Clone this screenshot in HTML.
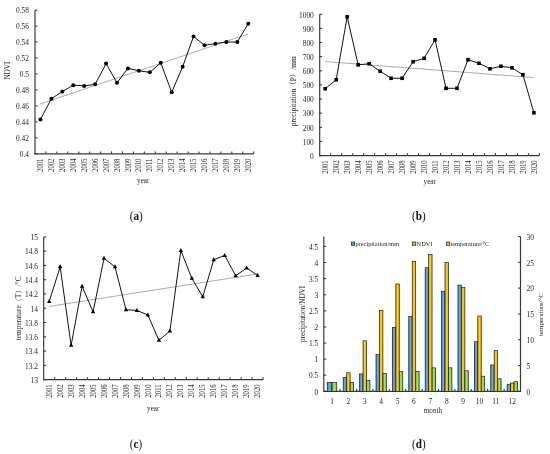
<!DOCTYPE html>
<html><head><meta charset="utf-8"><title>Figure</title>
<style>html,body{margin:0;padding:0;background:#fff;width:550px;height:454px;overflow:hidden}svg{display:block}</style>
</head><body>
<svg width="550" height="454" viewBox="0 0 550 454" font-family='"Liberation Serif","Noto Serif CJK SC",serif'>
<defs>
<linearGradient id="gb" x1="0" x2="1" y1="0" y2="0"><stop offset="0" stop-color="#3f78b8"/><stop offset="0.5" stop-color="#6fb0ee"/><stop offset="1" stop-color="#3f78b8"/></linearGradient>
<linearGradient id="go" x1="0" x2="1" y1="0" y2="0"><stop offset="0" stop-color="#e0a400"/><stop offset="0.5" stop-color="#ffd51a"/><stop offset="1" stop-color="#e0a400"/></linearGradient>
<linearGradient id="gg" x1="0" x2="1" y1="0" y2="0"><stop offset="0" stop-color="#6fb83a"/><stop offset="0.5" stop-color="#a6e866"/><stop offset="1" stop-color="#6fb83a"/></linearGradient>
</defs>
<rect width="550" height="454" fill="#fff"/>
<line x1="35.00" y1="10.10" x2="35.00" y2="154.40" stroke="#3a3a3a" stroke-width="1.2"/>
<line x1="34.40" y1="153.80" x2="253.70" y2="153.80" stroke="#3a3a3a" stroke-width="1.2"/>
<line x1="35.00" y1="153.80" x2="37.40" y2="153.80" stroke="#3a3a3a" stroke-width="1.1"/>
<text transform="translate(29.00 157.10)" font-size="7.4" text-anchor="end" fill="#262626">0.4</text>
<line x1="35.00" y1="137.83" x2="37.40" y2="137.83" stroke="#3a3a3a" stroke-width="1.1"/>
<text transform="translate(29.00 141.13)" font-size="7.4" text-anchor="end" fill="#262626">0.42</text>
<line x1="35.00" y1="121.87" x2="37.40" y2="121.87" stroke="#3a3a3a" stroke-width="1.1"/>
<text transform="translate(29.00 125.17)" font-size="7.4" text-anchor="end" fill="#262626">0.44</text>
<line x1="35.00" y1="105.90" x2="37.40" y2="105.90" stroke="#3a3a3a" stroke-width="1.1"/>
<text transform="translate(29.00 109.20)" font-size="7.4" text-anchor="end" fill="#262626">0.46</text>
<line x1="35.00" y1="89.93" x2="37.40" y2="89.93" stroke="#3a3a3a" stroke-width="1.1"/>
<text transform="translate(29.00 93.23)" font-size="7.4" text-anchor="end" fill="#262626">0.48</text>
<line x1="35.00" y1="73.97" x2="37.40" y2="73.97" stroke="#3a3a3a" stroke-width="1.1"/>
<text transform="translate(29.00 77.27)" font-size="7.4" text-anchor="end" fill="#262626">0.5</text>
<line x1="35.00" y1="58.00" x2="37.40" y2="58.00" stroke="#3a3a3a" stroke-width="1.1"/>
<text transform="translate(29.00 61.30)" font-size="7.4" text-anchor="end" fill="#262626">0.52</text>
<line x1="35.00" y1="42.03" x2="37.40" y2="42.03" stroke="#3a3a3a" stroke-width="1.1"/>
<text transform="translate(29.00 45.33)" font-size="7.4" text-anchor="end" fill="#262626">0.54</text>
<line x1="35.00" y1="26.07" x2="37.40" y2="26.07" stroke="#3a3a3a" stroke-width="1.1"/>
<text transform="translate(29.00 29.37)" font-size="7.4" text-anchor="end" fill="#262626">0.56</text>
<line x1="35.00" y1="10.10" x2="37.40" y2="10.10" stroke="#3a3a3a" stroke-width="1.1"/>
<text transform="translate(29.00 13.40)" font-size="7.4" text-anchor="end" fill="#262626">0.58</text>
<line x1="45.94" y1="153.80" x2="45.94" y2="151.40" stroke="#3a3a3a" stroke-width="1.1"/>
<line x1="56.87" y1="153.80" x2="56.87" y2="151.40" stroke="#3a3a3a" stroke-width="1.1"/>
<line x1="67.80" y1="153.80" x2="67.80" y2="151.40" stroke="#3a3a3a" stroke-width="1.1"/>
<line x1="78.74" y1="153.80" x2="78.74" y2="151.40" stroke="#3a3a3a" stroke-width="1.1"/>
<line x1="89.67" y1="153.80" x2="89.67" y2="151.40" stroke="#3a3a3a" stroke-width="1.1"/>
<line x1="100.61" y1="153.80" x2="100.61" y2="151.40" stroke="#3a3a3a" stroke-width="1.1"/>
<line x1="111.54" y1="153.80" x2="111.54" y2="151.40" stroke="#3a3a3a" stroke-width="1.1"/>
<line x1="122.48" y1="153.80" x2="122.48" y2="151.40" stroke="#3a3a3a" stroke-width="1.1"/>
<line x1="133.41" y1="153.80" x2="133.41" y2="151.40" stroke="#3a3a3a" stroke-width="1.1"/>
<line x1="144.35" y1="153.80" x2="144.35" y2="151.40" stroke="#3a3a3a" stroke-width="1.1"/>
<line x1="155.28" y1="153.80" x2="155.28" y2="151.40" stroke="#3a3a3a" stroke-width="1.1"/>
<line x1="166.22" y1="153.80" x2="166.22" y2="151.40" stroke="#3a3a3a" stroke-width="1.1"/>
<line x1="177.15" y1="153.80" x2="177.15" y2="151.40" stroke="#3a3a3a" stroke-width="1.1"/>
<line x1="188.09" y1="153.80" x2="188.09" y2="151.40" stroke="#3a3a3a" stroke-width="1.1"/>
<line x1="199.02" y1="153.80" x2="199.02" y2="151.40" stroke="#3a3a3a" stroke-width="1.1"/>
<line x1="209.96" y1="153.80" x2="209.96" y2="151.40" stroke="#3a3a3a" stroke-width="1.1"/>
<line x1="220.89" y1="153.80" x2="220.89" y2="151.40" stroke="#3a3a3a" stroke-width="1.1"/>
<line x1="231.83" y1="153.80" x2="231.83" y2="151.40" stroke="#3a3a3a" stroke-width="1.1"/>
<line x1="242.76" y1="153.80" x2="242.76" y2="151.40" stroke="#3a3a3a" stroke-width="1.1"/>
<line x1="253.70" y1="153.80" x2="253.70" y2="151.40" stroke="#3a3a3a" stroke-width="1.1"/>
<text transform="translate(43.07 158.60) rotate(-90) scale(0.930 1)" font-size="7.2" text-anchor="end" fill="#262626">2001</text>
<text transform="translate(54.00 158.60) rotate(-90) scale(0.930 1)" font-size="7.2" text-anchor="end" fill="#262626">2002</text>
<text transform="translate(64.94 158.60) rotate(-90) scale(0.930 1)" font-size="7.2" text-anchor="end" fill="#262626">2003</text>
<text transform="translate(75.87 158.60) rotate(-90) scale(0.930 1)" font-size="7.2" text-anchor="end" fill="#262626">2004</text>
<text transform="translate(86.81 158.60) rotate(-90) scale(0.930 1)" font-size="7.2" text-anchor="end" fill="#262626">2005</text>
<text transform="translate(97.74 158.60) rotate(-90) scale(0.930 1)" font-size="7.2" text-anchor="end" fill="#262626">2006</text>
<text transform="translate(108.68 158.60) rotate(-90) scale(0.930 1)" font-size="7.2" text-anchor="end" fill="#262626">2007</text>
<text transform="translate(119.61 158.60) rotate(-90) scale(0.930 1)" font-size="7.2" text-anchor="end" fill="#262626">2008</text>
<text transform="translate(130.55 158.60) rotate(-90) scale(0.930 1)" font-size="7.2" text-anchor="end" fill="#262626">2009</text>
<text transform="translate(141.48 158.60) rotate(-90) scale(0.930 1)" font-size="7.2" text-anchor="end" fill="#262626">2010</text>
<text transform="translate(152.42 158.60) rotate(-90) scale(0.930 1)" font-size="7.2" text-anchor="end" fill="#262626">2011</text>
<text transform="translate(163.35 158.60) rotate(-90) scale(0.930 1)" font-size="7.2" text-anchor="end" fill="#262626">2012</text>
<text transform="translate(174.29 158.60) rotate(-90) scale(0.930 1)" font-size="7.2" text-anchor="end" fill="#262626">2013</text>
<text transform="translate(185.22 158.60) rotate(-90) scale(0.930 1)" font-size="7.2" text-anchor="end" fill="#262626">2014</text>
<text transform="translate(196.16 158.60) rotate(-90) scale(0.930 1)" font-size="7.2" text-anchor="end" fill="#262626">2015</text>
<text transform="translate(207.09 158.60) rotate(-90) scale(0.930 1)" font-size="7.2" text-anchor="end" fill="#262626">2016</text>
<text transform="translate(218.03 158.60) rotate(-90) scale(0.930 1)" font-size="7.2" text-anchor="end" fill="#262626">2017</text>
<text transform="translate(228.96 158.60) rotate(-90) scale(0.930 1)" font-size="7.2" text-anchor="end" fill="#262626">2018</text>
<text transform="translate(239.90 158.60) rotate(-90) scale(0.930 1)" font-size="7.2" text-anchor="end" fill="#262626">2019</text>
<text transform="translate(250.83 158.60) rotate(-90) scale(0.930 1)" font-size="7.2" text-anchor="end" fill="#262626">2020</text>
<line x1="40.47" y1="103.82" x2="248.23" y2="33.97" stroke="#9c9c9c" stroke-width="0.85"/>
<polyline points="40.47,119.47 51.40,98.72 62.34,91.53 73.27,85.14 84.21,85.94 95.14,84.34 106.08,63.59 117.01,82.75 127.95,68.38 138.88,70.77 149.82,72.37 160.75,62.79 171.69,92.33 182.62,66.78 193.56,36.44 204.49,45.23 215.43,43.63 226.36,42.03 237.30,42.03 248.23,23.67" fill="none" stroke="#111" stroke-width="1"/>
<circle cx="40.47" cy="119.47" r="2.0" fill="#000"/>
<circle cx="51.40" cy="98.72" r="2.0" fill="#000"/>
<circle cx="62.34" cy="91.53" r="2.0" fill="#000"/>
<circle cx="73.27" cy="85.14" r="2.0" fill="#000"/>
<circle cx="84.21" cy="85.94" r="2.0" fill="#000"/>
<circle cx="95.14" cy="84.34" r="2.0" fill="#000"/>
<circle cx="106.08" cy="63.59" r="2.0" fill="#000"/>
<circle cx="117.01" cy="82.75" r="2.0" fill="#000"/>
<circle cx="127.95" cy="68.38" r="2.0" fill="#000"/>
<circle cx="138.88" cy="70.77" r="2.0" fill="#000"/>
<circle cx="149.82" cy="72.37" r="2.0" fill="#000"/>
<circle cx="160.75" cy="62.79" r="2.0" fill="#000"/>
<circle cx="171.69" cy="92.33" r="2.0" fill="#000"/>
<circle cx="182.62" cy="66.78" r="2.0" fill="#000"/>
<circle cx="193.56" cy="36.44" r="2.0" fill="#000"/>
<circle cx="204.49" cy="45.23" r="2.0" fill="#000"/>
<circle cx="215.43" cy="43.63" r="2.0" fill="#000"/>
<circle cx="226.36" cy="42.03" r="2.0" fill="#000"/>
<circle cx="237.30" cy="42.03" r="2.0" fill="#000"/>
<circle cx="248.23" cy="23.67" r="2.0" fill="#000"/>
<text transform="translate(10.40 70.60) rotate(-90)" font-size="7.2" text-anchor="middle" fill="#262626">NDVI</text>
<text transform="translate(143.20 182.70) scale(0.934 1)" font-size="7.6" text-anchor="middle" fill="#262626">year</text>
<text transform="translate(136.30 220.00) scale(0.960 1)" font-size="11.6" text-anchor="middle" fill="#111">(<tspan font-weight="bold">a</tspan>)</text>
<line x1="319.70" y1="14.25" x2="319.70" y2="156.15" stroke="#3a3a3a" stroke-width="1.2"/>
<line x1="319.10" y1="155.55" x2="539.40" y2="155.55" stroke="#3a3a3a" stroke-width="1.2"/>
<line x1="319.70" y1="155.55" x2="322.10" y2="155.55" stroke="#3a3a3a" stroke-width="1.1"/>
<text transform="translate(313.80 158.85)" font-size="7.4" text-anchor="end" fill="#262626">0</text>
<line x1="319.70" y1="141.42" x2="322.10" y2="141.42" stroke="#3a3a3a" stroke-width="1.1"/>
<text transform="translate(313.80 144.72)" font-size="7.4" text-anchor="end" fill="#262626">100</text>
<line x1="319.70" y1="127.29" x2="322.10" y2="127.29" stroke="#3a3a3a" stroke-width="1.1"/>
<text transform="translate(313.80 130.59)" font-size="7.4" text-anchor="end" fill="#262626">200</text>
<line x1="319.70" y1="113.16" x2="322.10" y2="113.16" stroke="#3a3a3a" stroke-width="1.1"/>
<text transform="translate(313.80 116.46)" font-size="7.4" text-anchor="end" fill="#262626">300</text>
<line x1="319.70" y1="99.03" x2="322.10" y2="99.03" stroke="#3a3a3a" stroke-width="1.1"/>
<text transform="translate(313.80 102.33)" font-size="7.4" text-anchor="end" fill="#262626">400</text>
<line x1="319.70" y1="84.90" x2="322.10" y2="84.90" stroke="#3a3a3a" stroke-width="1.1"/>
<text transform="translate(313.80 88.20)" font-size="7.4" text-anchor="end" fill="#262626">500</text>
<line x1="319.70" y1="70.77" x2="322.10" y2="70.77" stroke="#3a3a3a" stroke-width="1.1"/>
<text transform="translate(313.80 74.07)" font-size="7.4" text-anchor="end" fill="#262626">600</text>
<line x1="319.70" y1="56.64" x2="322.10" y2="56.64" stroke="#3a3a3a" stroke-width="1.1"/>
<text transform="translate(313.80 59.94)" font-size="7.4" text-anchor="end" fill="#262626">700</text>
<line x1="319.70" y1="42.51" x2="322.10" y2="42.51" stroke="#3a3a3a" stroke-width="1.1"/>
<text transform="translate(313.80 45.81)" font-size="7.4" text-anchor="end" fill="#262626">800</text>
<line x1="319.70" y1="28.38" x2="322.10" y2="28.38" stroke="#3a3a3a" stroke-width="1.1"/>
<text transform="translate(313.80 31.68)" font-size="7.4" text-anchor="end" fill="#262626">900</text>
<line x1="319.70" y1="14.25" x2="322.10" y2="14.25" stroke="#3a3a3a" stroke-width="1.1"/>
<text transform="translate(313.80 17.55)" font-size="7.4" text-anchor="end" fill="#262626">1000</text>
<line x1="330.69" y1="155.55" x2="330.69" y2="153.15" stroke="#3a3a3a" stroke-width="1.1"/>
<line x1="341.67" y1="155.55" x2="341.67" y2="153.15" stroke="#3a3a3a" stroke-width="1.1"/>
<line x1="352.65" y1="155.55" x2="352.65" y2="153.15" stroke="#3a3a3a" stroke-width="1.1"/>
<line x1="363.64" y1="155.55" x2="363.64" y2="153.15" stroke="#3a3a3a" stroke-width="1.1"/>
<line x1="374.62" y1="155.55" x2="374.62" y2="153.15" stroke="#3a3a3a" stroke-width="1.1"/>
<line x1="385.61" y1="155.55" x2="385.61" y2="153.15" stroke="#3a3a3a" stroke-width="1.1"/>
<line x1="396.59" y1="155.55" x2="396.59" y2="153.15" stroke="#3a3a3a" stroke-width="1.1"/>
<line x1="407.58" y1="155.55" x2="407.58" y2="153.15" stroke="#3a3a3a" stroke-width="1.1"/>
<line x1="418.56" y1="155.55" x2="418.56" y2="153.15" stroke="#3a3a3a" stroke-width="1.1"/>
<line x1="429.55" y1="155.55" x2="429.55" y2="153.15" stroke="#3a3a3a" stroke-width="1.1"/>
<line x1="440.53" y1="155.55" x2="440.53" y2="153.15" stroke="#3a3a3a" stroke-width="1.1"/>
<line x1="451.52" y1="155.55" x2="451.52" y2="153.15" stroke="#3a3a3a" stroke-width="1.1"/>
<line x1="462.50" y1="155.55" x2="462.50" y2="153.15" stroke="#3a3a3a" stroke-width="1.1"/>
<line x1="473.49" y1="155.55" x2="473.49" y2="153.15" stroke="#3a3a3a" stroke-width="1.1"/>
<line x1="484.47" y1="155.55" x2="484.47" y2="153.15" stroke="#3a3a3a" stroke-width="1.1"/>
<line x1="495.46" y1="155.55" x2="495.46" y2="153.15" stroke="#3a3a3a" stroke-width="1.1"/>
<line x1="506.44" y1="155.55" x2="506.44" y2="153.15" stroke="#3a3a3a" stroke-width="1.1"/>
<line x1="517.43" y1="155.55" x2="517.43" y2="153.15" stroke="#3a3a3a" stroke-width="1.1"/>
<line x1="528.41" y1="155.55" x2="528.41" y2="153.15" stroke="#3a3a3a" stroke-width="1.1"/>
<line x1="539.40" y1="155.55" x2="539.40" y2="153.15" stroke="#3a3a3a" stroke-width="1.1"/>
<text transform="translate(327.79 160.35) rotate(-90) scale(0.930 1)" font-size="7.2" text-anchor="end" fill="#262626">2001</text>
<text transform="translate(338.78 160.35) rotate(-90) scale(0.930 1)" font-size="7.2" text-anchor="end" fill="#262626">2002</text>
<text transform="translate(349.76 160.35) rotate(-90) scale(0.930 1)" font-size="7.2" text-anchor="end" fill="#262626">2003</text>
<text transform="translate(360.75 160.35) rotate(-90) scale(0.930 1)" font-size="7.2" text-anchor="end" fill="#262626">2004</text>
<text transform="translate(371.73 160.35) rotate(-90) scale(0.930 1)" font-size="7.2" text-anchor="end" fill="#262626">2005</text>
<text transform="translate(382.72 160.35) rotate(-90) scale(0.930 1)" font-size="7.2" text-anchor="end" fill="#262626">2006</text>
<text transform="translate(393.70 160.35) rotate(-90) scale(0.930 1)" font-size="7.2" text-anchor="end" fill="#262626">2007</text>
<text transform="translate(404.69 160.35) rotate(-90) scale(0.930 1)" font-size="7.2" text-anchor="end" fill="#262626">2008</text>
<text transform="translate(415.67 160.35) rotate(-90) scale(0.930 1)" font-size="7.2" text-anchor="end" fill="#262626">2009</text>
<text transform="translate(426.66 160.35) rotate(-90) scale(0.930 1)" font-size="7.2" text-anchor="end" fill="#262626">2010</text>
<text transform="translate(437.64 160.35) rotate(-90) scale(0.930 1)" font-size="7.2" text-anchor="end" fill="#262626">2011</text>
<text transform="translate(448.63 160.35) rotate(-90) scale(0.930 1)" font-size="7.2" text-anchor="end" fill="#262626">2012</text>
<text transform="translate(459.61 160.35) rotate(-90) scale(0.930 1)" font-size="7.2" text-anchor="end" fill="#262626">2013</text>
<text transform="translate(470.60 160.35) rotate(-90) scale(0.930 1)" font-size="7.2" text-anchor="end" fill="#262626">2014</text>
<text transform="translate(481.58 160.35) rotate(-90) scale(0.930 1)" font-size="7.2" text-anchor="end" fill="#262626">2015</text>
<text transform="translate(492.57 160.35) rotate(-90) scale(0.930 1)" font-size="7.2" text-anchor="end" fill="#262626">2016</text>
<text transform="translate(503.55 160.35) rotate(-90) scale(0.930 1)" font-size="7.2" text-anchor="end" fill="#262626">2017</text>
<text transform="translate(514.54 160.35) rotate(-90) scale(0.930 1)" font-size="7.2" text-anchor="end" fill="#262626">2018</text>
<text transform="translate(525.52 160.35) rotate(-90) scale(0.930 1)" font-size="7.2" text-anchor="end" fill="#262626">2019</text>
<text transform="translate(536.51 160.35) rotate(-90) scale(0.930 1)" font-size="7.2" text-anchor="end" fill="#262626">2020</text>
<line x1="325.19" y1="61.57" x2="533.91" y2="77.57" stroke="#9c9c9c" stroke-width="0.85"/>
<polyline points="325.19,88.72 336.18,79.81 347.16,16.79 358.15,64.84 369.13,63.70 380.12,71.19 391.10,78.26 402.09,78.26 413.07,61.73 424.06,58.34 435.04,39.83 446.03,88.29 457.01,88.29 468.00,59.75 478.98,63.28 489.97,68.79 500.95,66.25 511.94,67.80 522.92,74.73 533.91,112.74" fill="none" stroke="#111" stroke-width="1"/>
<rect x="323.39" y="86.92" width="3.6" height="3.6" fill="#000"/>
<rect x="334.38" y="78.01" width="3.6" height="3.6" fill="#000"/>
<rect x="345.36" y="14.99" width="3.6" height="3.6" fill="#000"/>
<rect x="356.35" y="63.04" width="3.6" height="3.6" fill="#000"/>
<rect x="367.33" y="61.91" width="3.6" height="3.6" fill="#000"/>
<rect x="378.32" y="69.39" width="3.6" height="3.6" fill="#000"/>
<rect x="389.30" y="76.46" width="3.6" height="3.6" fill="#000"/>
<rect x="400.29" y="76.46" width="3.6" height="3.6" fill="#000"/>
<rect x="411.27" y="59.93" width="3.6" height="3.6" fill="#000"/>
<rect x="422.26" y="56.54" width="3.6" height="3.6" fill="#000"/>
<rect x="433.24" y="38.03" width="3.6" height="3.6" fill="#000"/>
<rect x="444.23" y="86.49" width="3.6" height="3.6" fill="#000"/>
<rect x="455.21" y="86.49" width="3.6" height="3.6" fill="#000"/>
<rect x="466.20" y="57.95" width="3.6" height="3.6" fill="#000"/>
<rect x="477.18" y="61.48" width="3.6" height="3.6" fill="#000"/>
<rect x="488.17" y="66.99" width="3.6" height="3.6" fill="#000"/>
<rect x="499.15" y="64.45" width="3.6" height="3.6" fill="#000"/>
<rect x="510.14" y="66.00" width="3.6" height="3.6" fill="#000"/>
<rect x="521.12" y="72.93" width="3.6" height="3.6" fill="#000"/>
<rect x="532.11" y="110.94" width="3.6" height="3.6" fill="#000"/>
<text transform="translate(296.00 91.20) rotate(-90)" font-size="7.45" text-anchor="middle" fill="#262626">precipitation（P）/mm</text>
<text transform="translate(429.70 184.20) scale(0.934 1)" font-size="7.6" text-anchor="middle" fill="#262626">year</text>
<text transform="translate(418.90 220.00) scale(0.960 1)" font-size="11.6" text-anchor="middle" fill="#111">(<tspan font-weight="bold">b</tspan>)</text>
<line x1="43.70" y1="236.90" x2="43.70" y2="380.20" stroke="#3a3a3a" stroke-width="1.2"/>
<line x1="43.10" y1="379.60" x2="263.10" y2="379.60" stroke="#3a3a3a" stroke-width="1.2"/>
<line x1="43.70" y1="379.60" x2="46.10" y2="379.60" stroke="#3a3a3a" stroke-width="1.1"/>
<text transform="translate(38.00 382.90)" font-size="7.4" text-anchor="end" fill="#262626">13</text>
<line x1="43.70" y1="365.33" x2="46.10" y2="365.33" stroke="#3a3a3a" stroke-width="1.1"/>
<text transform="translate(38.00 368.63)" font-size="7.4" text-anchor="end" fill="#262626">13.2</text>
<line x1="43.70" y1="351.06" x2="46.10" y2="351.06" stroke="#3a3a3a" stroke-width="1.1"/>
<text transform="translate(38.00 354.36)" font-size="7.4" text-anchor="end" fill="#262626">13.4</text>
<line x1="43.70" y1="336.79" x2="46.10" y2="336.79" stroke="#3a3a3a" stroke-width="1.1"/>
<text transform="translate(38.00 340.09)" font-size="7.4" text-anchor="end" fill="#262626">13.6</text>
<line x1="43.70" y1="322.52" x2="46.10" y2="322.52" stroke="#3a3a3a" stroke-width="1.1"/>
<text transform="translate(38.00 325.82)" font-size="7.4" text-anchor="end" fill="#262626">13.8</text>
<line x1="43.70" y1="308.25" x2="46.10" y2="308.25" stroke="#3a3a3a" stroke-width="1.1"/>
<text transform="translate(38.00 311.55)" font-size="7.4" text-anchor="end" fill="#262626">14</text>
<line x1="43.70" y1="293.98" x2="46.10" y2="293.98" stroke="#3a3a3a" stroke-width="1.1"/>
<text transform="translate(38.00 297.28)" font-size="7.4" text-anchor="end" fill="#262626">14.2</text>
<line x1="43.70" y1="279.71" x2="46.10" y2="279.71" stroke="#3a3a3a" stroke-width="1.1"/>
<text transform="translate(38.00 283.01)" font-size="7.4" text-anchor="end" fill="#262626">14.4</text>
<line x1="43.70" y1="265.44" x2="46.10" y2="265.44" stroke="#3a3a3a" stroke-width="1.1"/>
<text transform="translate(38.00 268.74)" font-size="7.4" text-anchor="end" fill="#262626">14.6</text>
<line x1="43.70" y1="251.17" x2="46.10" y2="251.17" stroke="#3a3a3a" stroke-width="1.1"/>
<text transform="translate(38.00 254.47)" font-size="7.4" text-anchor="end" fill="#262626">14.8</text>
<line x1="43.70" y1="236.90" x2="46.10" y2="236.90" stroke="#3a3a3a" stroke-width="1.1"/>
<text transform="translate(38.00 240.20)" font-size="7.4" text-anchor="end" fill="#262626">15</text>
<line x1="54.67" y1="379.60" x2="54.67" y2="377.20" stroke="#3a3a3a" stroke-width="1.1"/>
<line x1="65.64" y1="379.60" x2="65.64" y2="377.20" stroke="#3a3a3a" stroke-width="1.1"/>
<line x1="76.61" y1="379.60" x2="76.61" y2="377.20" stroke="#3a3a3a" stroke-width="1.1"/>
<line x1="87.58" y1="379.60" x2="87.58" y2="377.20" stroke="#3a3a3a" stroke-width="1.1"/>
<line x1="98.55" y1="379.60" x2="98.55" y2="377.20" stroke="#3a3a3a" stroke-width="1.1"/>
<line x1="109.52" y1="379.60" x2="109.52" y2="377.20" stroke="#3a3a3a" stroke-width="1.1"/>
<line x1="120.49" y1="379.60" x2="120.49" y2="377.20" stroke="#3a3a3a" stroke-width="1.1"/>
<line x1="131.46" y1="379.60" x2="131.46" y2="377.20" stroke="#3a3a3a" stroke-width="1.1"/>
<line x1="142.43" y1="379.60" x2="142.43" y2="377.20" stroke="#3a3a3a" stroke-width="1.1"/>
<line x1="153.40" y1="379.60" x2="153.40" y2="377.20" stroke="#3a3a3a" stroke-width="1.1"/>
<line x1="164.37" y1="379.60" x2="164.37" y2="377.20" stroke="#3a3a3a" stroke-width="1.1"/>
<line x1="175.34" y1="379.60" x2="175.34" y2="377.20" stroke="#3a3a3a" stroke-width="1.1"/>
<line x1="186.31" y1="379.60" x2="186.31" y2="377.20" stroke="#3a3a3a" stroke-width="1.1"/>
<line x1="197.28" y1="379.60" x2="197.28" y2="377.20" stroke="#3a3a3a" stroke-width="1.1"/>
<line x1="208.25" y1="379.60" x2="208.25" y2="377.20" stroke="#3a3a3a" stroke-width="1.1"/>
<line x1="219.22" y1="379.60" x2="219.22" y2="377.20" stroke="#3a3a3a" stroke-width="1.1"/>
<line x1="230.19" y1="379.60" x2="230.19" y2="377.20" stroke="#3a3a3a" stroke-width="1.1"/>
<line x1="241.16" y1="379.60" x2="241.16" y2="377.20" stroke="#3a3a3a" stroke-width="1.1"/>
<line x1="252.13" y1="379.60" x2="252.13" y2="377.20" stroke="#3a3a3a" stroke-width="1.1"/>
<line x1="263.10" y1="379.60" x2="263.10" y2="377.20" stroke="#3a3a3a" stroke-width="1.1"/>
<text transform="translate(51.79 384.40) rotate(-90) scale(0.930 1)" font-size="7.2" text-anchor="end" fill="#262626">2001</text>
<text transform="translate(62.76 384.40) rotate(-90) scale(0.930 1)" font-size="7.2" text-anchor="end" fill="#262626">2002</text>
<text transform="translate(73.72 384.40) rotate(-90) scale(0.930 1)" font-size="7.2" text-anchor="end" fill="#262626">2003</text>
<text transform="translate(84.70 384.40) rotate(-90) scale(0.930 1)" font-size="7.2" text-anchor="end" fill="#262626">2004</text>
<text transform="translate(95.67 384.40) rotate(-90) scale(0.930 1)" font-size="7.2" text-anchor="end" fill="#262626">2005</text>
<text transform="translate(106.64 384.40) rotate(-90) scale(0.930 1)" font-size="7.2" text-anchor="end" fill="#262626">2006</text>
<text transform="translate(117.61 384.40) rotate(-90) scale(0.930 1)" font-size="7.2" text-anchor="end" fill="#262626">2007</text>
<text transform="translate(128.58 384.40) rotate(-90) scale(0.930 1)" font-size="7.2" text-anchor="end" fill="#262626">2008</text>
<text transform="translate(139.55 384.40) rotate(-90) scale(0.930 1)" font-size="7.2" text-anchor="end" fill="#262626">2009</text>
<text transform="translate(150.52 384.40) rotate(-90) scale(0.930 1)" font-size="7.2" text-anchor="end" fill="#262626">2010</text>
<text transform="translate(161.49 384.40) rotate(-90) scale(0.930 1)" font-size="7.2" text-anchor="end" fill="#262626">2011</text>
<text transform="translate(172.46 384.40) rotate(-90) scale(0.930 1)" font-size="7.2" text-anchor="end" fill="#262626">2012</text>
<text transform="translate(183.43 384.40) rotate(-90) scale(0.930 1)" font-size="7.2" text-anchor="end" fill="#262626">2013</text>
<text transform="translate(194.40 384.40) rotate(-90) scale(0.930 1)" font-size="7.2" text-anchor="end" fill="#262626">2014</text>
<text transform="translate(205.37 384.40) rotate(-90) scale(0.930 1)" font-size="7.2" text-anchor="end" fill="#262626">2015</text>
<text transform="translate(216.34 384.40) rotate(-90) scale(0.930 1)" font-size="7.2" text-anchor="end" fill="#262626">2016</text>
<text transform="translate(227.31 384.40) rotate(-90) scale(0.930 1)" font-size="7.2" text-anchor="end" fill="#262626">2017</text>
<text transform="translate(238.28 384.40) rotate(-90) scale(0.930 1)" font-size="7.2" text-anchor="end" fill="#262626">2018</text>
<text transform="translate(249.25 384.40) rotate(-90) scale(0.930 1)" font-size="7.2" text-anchor="end" fill="#262626">2019</text>
<text transform="translate(260.22 384.40) rotate(-90) scale(0.930 1)" font-size="7.2" text-anchor="end" fill="#262626">2020</text>
<line x1="49.19" y1="306.41" x2="257.62" y2="273.92" stroke="#9c9c9c" stroke-width="0.85"/>
<polyline points="49.19,301.47 60.16,266.87 71.12,345.35 82.10,286.13 93.07,311.82 104.04,258.31 115.01,266.87 125.98,309.68 136.95,310.39 147.92,315.03 158.89,340.36 169.86,331.08 180.83,250.46 191.80,278.28 202.77,296.83 213.74,259.73 224.71,255.45 235.68,275.79 246.65,267.94 257.62,275.43" fill="none" stroke="#111" stroke-width="1"/>
<polygon points="49.19,298.97 51.39,302.97 46.98,302.97" fill="#000"/>
<polygon points="60.16,264.37 62.36,268.37 57.96,268.37" fill="#000"/>
<polygon points="71.12,342.85 73.33,346.85 68.92,346.85" fill="#000"/>
<polygon points="82.10,283.63 84.30,287.63 79.90,287.63" fill="#000"/>
<polygon points="93.07,309.32 95.27,313.32 90.87,313.32" fill="#000"/>
<polygon points="104.04,255.81 106.24,259.81 101.84,259.81" fill="#000"/>
<polygon points="115.01,264.37 117.21,268.37 112.81,268.37" fill="#000"/>
<polygon points="125.98,307.18 128.18,311.18 123.78,311.18" fill="#000"/>
<polygon points="136.95,307.89 139.15,311.89 134.75,311.89" fill="#000"/>
<polygon points="147.92,312.53 150.12,316.53 145.72,316.53" fill="#000"/>
<polygon points="158.89,337.86 161.09,341.86 156.69,341.86" fill="#000"/>
<polygon points="169.86,328.58 172.06,332.58 167.66,332.58" fill="#000"/>
<polygon points="180.83,247.96 183.03,251.96 178.63,251.96" fill="#000"/>
<polygon points="191.80,275.78 194.00,279.78 189.60,279.78" fill="#000"/>
<polygon points="202.77,294.33 204.97,298.33 200.57,298.33" fill="#000"/>
<polygon points="213.74,257.23 215.94,261.23 211.54,261.23" fill="#000"/>
<polygon points="224.71,252.95 226.91,256.95 222.51,256.95" fill="#000"/>
<polygon points="235.68,273.29 237.88,277.29 233.48,277.29" fill="#000"/>
<polygon points="246.65,265.44 248.85,269.44 244.45,269.44" fill="#000"/>
<polygon points="257.62,272.93 259.82,276.93 255.42,276.93" fill="#000"/>
<text transform="translate(21.20 308.30) rotate(-90)" font-size="7.3" text-anchor="middle" fill="#262626">temperature（T）/°C</text>
<text transform="translate(153.20 411.10) scale(0.934 1)" font-size="7.6" text-anchor="middle" fill="#262626">year</text>
<text transform="translate(136.00 448.00) scale(0.960 1)" font-size="11.6" text-anchor="middle" fill="#111">(<tspan font-weight="bold">c</tspan>)</text>
<line x1="323.80" y1="236.50" x2="323.80" y2="391.95" stroke="#3a3a3a" stroke-width="1.2"/>
<line x1="520.50" y1="236.50" x2="520.50" y2="391.95" stroke="#3a3a3a" stroke-width="1.2"/>
<line x1="323.20" y1="391.35" x2="521.10" y2="391.35" stroke="#3a3a3a" stroke-width="1.2"/>
<line x1="323.80" y1="391.35" x2="326.20" y2="391.35" stroke="#3a3a3a" stroke-width="1.1"/>
<text transform="translate(318.20 394.55)" font-size="7.4" text-anchor="end" fill="#262626">0</text>
<line x1="323.80" y1="375.25" x2="326.20" y2="375.25" stroke="#3a3a3a" stroke-width="1.1"/>
<text transform="translate(318.20 378.45)" font-size="7.4" text-anchor="end" fill="#262626">0.5</text>
<line x1="323.80" y1="359.15" x2="326.20" y2="359.15" stroke="#3a3a3a" stroke-width="1.1"/>
<text transform="translate(318.20 362.35)" font-size="7.4" text-anchor="end" fill="#262626">1</text>
<line x1="323.80" y1="343.05" x2="326.20" y2="343.05" stroke="#3a3a3a" stroke-width="1.1"/>
<text transform="translate(318.20 346.25)" font-size="7.4" text-anchor="end" fill="#262626">1.5</text>
<line x1="323.80" y1="326.95" x2="326.20" y2="326.95" stroke="#3a3a3a" stroke-width="1.1"/>
<text transform="translate(318.20 330.15)" font-size="7.4" text-anchor="end" fill="#262626">2</text>
<line x1="323.80" y1="310.85" x2="326.20" y2="310.85" stroke="#3a3a3a" stroke-width="1.1"/>
<text transform="translate(318.20 314.05)" font-size="7.4" text-anchor="end" fill="#262626">2.5</text>
<line x1="323.80" y1="294.75" x2="326.20" y2="294.75" stroke="#3a3a3a" stroke-width="1.1"/>
<text transform="translate(318.20 297.95)" font-size="7.4" text-anchor="end" fill="#262626">3</text>
<line x1="323.80" y1="278.65" x2="326.20" y2="278.65" stroke="#3a3a3a" stroke-width="1.1"/>
<text transform="translate(318.20 281.85)" font-size="7.4" text-anchor="end" fill="#262626">3.5</text>
<line x1="323.80" y1="262.55" x2="326.20" y2="262.55" stroke="#3a3a3a" stroke-width="1.1"/>
<text transform="translate(318.20 265.75)" font-size="7.4" text-anchor="end" fill="#262626">4</text>
<line x1="323.80" y1="246.45" x2="326.20" y2="246.45" stroke="#3a3a3a" stroke-width="1.1"/>
<text transform="translate(318.20 249.65)" font-size="7.4" text-anchor="end" fill="#262626">4.5</text>
<line x1="520.50" y1="391.35" x2="518.10" y2="391.35" stroke="#3a3a3a" stroke-width="1.1"/>
<text transform="translate(526.50 394.55)" font-size="7.4" text-anchor="start" fill="#262626">0</text>
<line x1="520.50" y1="365.54" x2="518.10" y2="365.54" stroke="#3a3a3a" stroke-width="1.1"/>
<text transform="translate(526.50 368.74)" font-size="7.4" text-anchor="start" fill="#262626">5</text>
<line x1="520.50" y1="339.73" x2="518.10" y2="339.73" stroke="#3a3a3a" stroke-width="1.1"/>
<text transform="translate(526.50 342.93)" font-size="7.4" text-anchor="start" fill="#262626">10</text>
<line x1="520.50" y1="313.93" x2="518.10" y2="313.93" stroke="#3a3a3a" stroke-width="1.1"/>
<text transform="translate(526.50 317.12)" font-size="7.4" text-anchor="start" fill="#262626">15</text>
<line x1="520.50" y1="288.12" x2="518.10" y2="288.12" stroke="#3a3a3a" stroke-width="1.1"/>
<text transform="translate(526.50 291.32)" font-size="7.4" text-anchor="start" fill="#262626">20</text>
<line x1="520.50" y1="262.31" x2="518.10" y2="262.31" stroke="#3a3a3a" stroke-width="1.1"/>
<text transform="translate(526.50 265.51)" font-size="7.4" text-anchor="start" fill="#262626">25</text>
<line x1="520.50" y1="236.50" x2="518.10" y2="236.50" stroke="#3a3a3a" stroke-width="1.1"/>
<text transform="translate(526.50 239.70)" font-size="7.4" text-anchor="start" fill="#262626">30</text>
<line x1="340.19" y1="391.35" x2="340.19" y2="388.95" stroke="#3a3a3a" stroke-width="1.1"/>
<line x1="356.58" y1="391.35" x2="356.58" y2="388.95" stroke="#3a3a3a" stroke-width="1.1"/>
<line x1="372.98" y1="391.35" x2="372.98" y2="388.95" stroke="#3a3a3a" stroke-width="1.1"/>
<line x1="389.37" y1="391.35" x2="389.37" y2="388.95" stroke="#3a3a3a" stroke-width="1.1"/>
<line x1="405.76" y1="391.35" x2="405.76" y2="388.95" stroke="#3a3a3a" stroke-width="1.1"/>
<line x1="422.15" y1="391.35" x2="422.15" y2="388.95" stroke="#3a3a3a" stroke-width="1.1"/>
<line x1="438.54" y1="391.35" x2="438.54" y2="388.95" stroke="#3a3a3a" stroke-width="1.1"/>
<line x1="454.93" y1="391.35" x2="454.93" y2="388.95" stroke="#3a3a3a" stroke-width="1.1"/>
<line x1="471.32" y1="391.35" x2="471.32" y2="388.95" stroke="#3a3a3a" stroke-width="1.1"/>
<line x1="487.72" y1="391.35" x2="487.72" y2="388.95" stroke="#3a3a3a" stroke-width="1.1"/>
<line x1="504.11" y1="391.35" x2="504.11" y2="388.95" stroke="#3a3a3a" stroke-width="1.1"/>
<rect x="327.25" y="382.33" width="4.75" height="9.02" fill="url(#gb)" stroke="#1e1e1e" stroke-width="0.7"/>
<rect x="332.00" y="382.33" width="4.75" height="9.02" fill="url(#gg)" stroke="#1e1e1e" stroke-width="0.7"/>
<text transform="translate(332.00 403.90)" font-size="7.4" text-anchor="middle" fill="#262626">1</text>
<rect x="343.21" y="377.50" width="3.45" height="13.85" fill="url(#gb)" stroke="#1e1e1e" stroke-width="0.7"/>
<rect x="346.66" y="372.77" width="3.45" height="18.58" fill="url(#go)" stroke="#1e1e1e" stroke-width="0.7"/>
<rect x="350.11" y="382.33" width="3.45" height="9.02" fill="url(#gg)" stroke="#1e1e1e" stroke-width="0.7"/>
<text transform="translate(348.39 403.90)" font-size="7.4" text-anchor="middle" fill="#262626">2</text>
<rect x="359.60" y="373.96" width="3.45" height="17.39" fill="url(#gb)" stroke="#1e1e1e" stroke-width="0.7"/>
<rect x="363.05" y="340.77" width="3.45" height="50.58" fill="url(#go)" stroke="#1e1e1e" stroke-width="0.7"/>
<rect x="366.50" y="380.40" width="3.45" height="10.95" fill="url(#gg)" stroke="#1e1e1e" stroke-width="0.7"/>
<text transform="translate(364.78 403.90)" font-size="7.4" text-anchor="middle" fill="#262626">3</text>
<rect x="376.00" y="354.32" width="3.45" height="37.03" fill="url(#gb)" stroke="#1e1e1e" stroke-width="0.7"/>
<rect x="379.45" y="310.31" width="3.45" height="81.04" fill="url(#go)" stroke="#1e1e1e" stroke-width="0.7"/>
<rect x="382.90" y="373.64" width="3.45" height="17.71" fill="url(#gg)" stroke="#1e1e1e" stroke-width="0.7"/>
<text transform="translate(381.17 403.90)" font-size="7.4" text-anchor="middle" fill="#262626">4</text>
<rect x="392.39" y="327.27" width="3.45" height="64.08" fill="url(#gb)" stroke="#1e1e1e" stroke-width="0.7"/>
<rect x="395.84" y="283.99" width="3.45" height="107.36" fill="url(#go)" stroke="#1e1e1e" stroke-width="0.7"/>
<rect x="399.29" y="371.71" width="3.45" height="19.64" fill="url(#gg)" stroke="#1e1e1e" stroke-width="0.7"/>
<text transform="translate(397.56 403.90)" font-size="7.4" text-anchor="middle" fill="#262626">5</text>
<rect x="408.78" y="316.32" width="3.45" height="75.03" fill="url(#gb)" stroke="#1e1e1e" stroke-width="0.7"/>
<rect x="412.23" y="261.28" width="3.45" height="130.07" fill="url(#go)" stroke="#1e1e1e" stroke-width="0.7"/>
<rect x="415.68" y="371.39" width="3.45" height="19.96" fill="url(#gg)" stroke="#1e1e1e" stroke-width="0.7"/>
<text transform="translate(413.95 403.90)" font-size="7.4" text-anchor="middle" fill="#262626">6</text>
<rect x="425.17" y="267.70" width="3.45" height="123.65" fill="url(#gb)" stroke="#1e1e1e" stroke-width="0.7"/>
<rect x="428.62" y="254.57" width="3.45" height="136.78" fill="url(#go)" stroke="#1e1e1e" stroke-width="0.7"/>
<rect x="432.07" y="367.84" width="3.45" height="23.51" fill="url(#gg)" stroke="#1e1e1e" stroke-width="0.7"/>
<text transform="translate(430.35 403.90)" font-size="7.4" text-anchor="middle" fill="#262626">7</text>
<rect x="441.56" y="291.21" width="3.45" height="100.14" fill="url(#gb)" stroke="#1e1e1e" stroke-width="0.7"/>
<rect x="445.01" y="262.57" width="3.45" height="128.78" fill="url(#go)" stroke="#1e1e1e" stroke-width="0.7"/>
<rect x="448.46" y="367.84" width="3.45" height="23.51" fill="url(#gg)" stroke="#1e1e1e" stroke-width="0.7"/>
<text transform="translate(446.74 403.90)" font-size="7.4" text-anchor="middle" fill="#262626">8</text>
<rect x="457.95" y="285.09" width="3.45" height="106.26" fill="url(#gb)" stroke="#1e1e1e" stroke-width="0.7"/>
<rect x="461.40" y="287.60" width="3.45" height="103.75" fill="url(#go)" stroke="#1e1e1e" stroke-width="0.7"/>
<rect x="464.85" y="370.74" width="3.45" height="20.61" fill="url(#gg)" stroke="#1e1e1e" stroke-width="0.7"/>
<text transform="translate(463.13 403.90)" font-size="7.4" text-anchor="middle" fill="#262626">9</text>
<rect x="474.35" y="341.76" width="3.45" height="49.59" fill="url(#gb)" stroke="#1e1e1e" stroke-width="0.7"/>
<rect x="477.80" y="315.99" width="3.45" height="75.36" fill="url(#go)" stroke="#1e1e1e" stroke-width="0.7"/>
<rect x="481.25" y="376.22" width="3.45" height="15.13" fill="url(#gg)" stroke="#1e1e1e" stroke-width="0.7"/>
<text transform="translate(479.52 403.90)" font-size="7.4" text-anchor="middle" fill="#262626">10</text>
<rect x="490.74" y="364.95" width="3.45" height="26.40" fill="url(#gb)" stroke="#1e1e1e" stroke-width="0.7"/>
<rect x="494.19" y="350.57" width="3.45" height="40.78" fill="url(#go)" stroke="#1e1e1e" stroke-width="0.7"/>
<rect x="497.64" y="378.79" width="3.45" height="12.56" fill="url(#gg)" stroke="#1e1e1e" stroke-width="0.7"/>
<text transform="translate(495.91 403.90)" font-size="7.4" text-anchor="middle" fill="#262626">11</text>
<rect x="507.13" y="384.27" width="3.45" height="7.08" fill="url(#gb)" stroke="#1e1e1e" stroke-width="0.7"/>
<rect x="510.58" y="383.09" width="3.45" height="8.26" fill="url(#go)" stroke="#1e1e1e" stroke-width="0.7"/>
<rect x="514.03" y="381.69" width="3.45" height="9.66" fill="url(#gg)" stroke="#1e1e1e" stroke-width="0.7"/>
<text transform="translate(512.30 403.90)" font-size="7.4" text-anchor="middle" fill="#262626">12</text>
<rect x="351.40" y="242" width="3.3" height="3.3" fill="url(#gb)" stroke="#222" stroke-width="0.7"/>
<text transform="translate(355.50 245.80) scale(0.907 1)" font-size="7.0" text-anchor="start" fill="#262626">precipitation/mm</text>
<rect x="412.50" y="242" width="3.3" height="3.3" fill="url(#gg)" stroke="#222" stroke-width="0.7"/>
<text transform="translate(416.60 245.80) scale(0.907 1)" font-size="7.0" text-anchor="start" fill="#262626">NDVI</text>
<rect x="446.40" y="242" width="3.3" height="3.3" fill="url(#go)" stroke="#222" stroke-width="0.7"/>
<text transform="translate(450.50 245.80) scale(0.907 1)" font-size="7.0" text-anchor="start" fill="#262626">temperature/°C</text>
<text transform="translate(304.90 313.90) rotate(-90)" font-size="7.2" text-anchor="middle" fill="#262626">precipitation/NDVI</text>
<text transform="translate(542.90 314.60) rotate(-90)" font-size="7.0" text-anchor="middle" fill="#262626">temperature/°C</text>
<text transform="translate(432.90 412.80) scale(0.934 1)" font-size="7.6" text-anchor="middle" fill="#262626">month</text>
<text transform="translate(418.80 447.80) scale(0.960 1)" font-size="11.6" text-anchor="middle" fill="#111">(<tspan font-weight="bold">d</tspan>)</text>
</svg>
</body></html>
